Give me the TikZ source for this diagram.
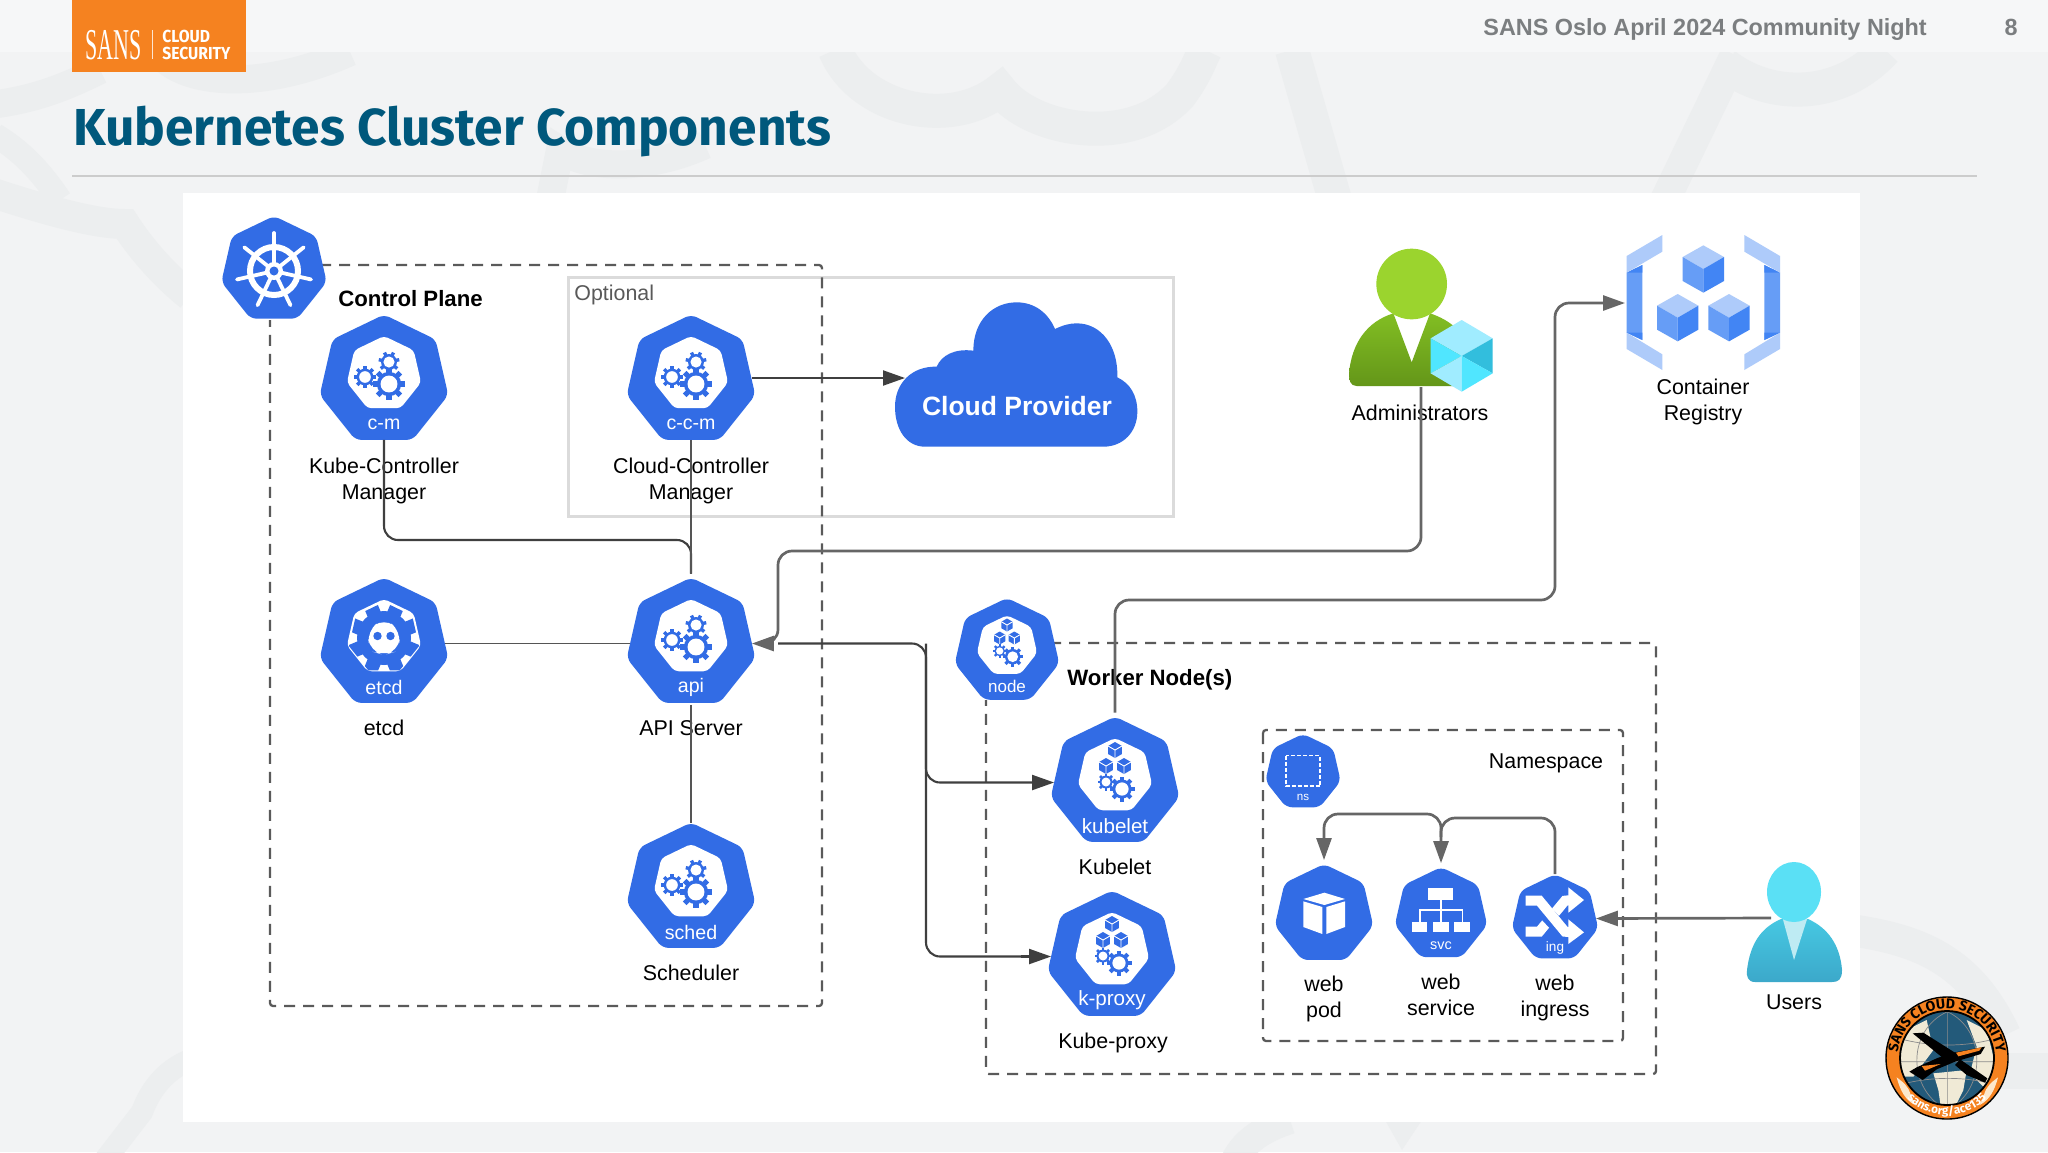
\documentclass[tikz,border=0pt]{standalone}
\usepackage{fontspec}
\usepackage{graphicx}
\setmainfont{Liberation Sans}
\newfontfamily\firafont{Fira Sans}
\newfontfamily\seriffont{Liberation Serif}
\usetikzlibrary{shapes.geometric,arrows.meta,decorations.text,calc}
\definecolor{kblue}{HTML}{326CE5}
\definecolor{pagebg}{HTML}{F2F3F4}
\definecolor{topbg}{HTML}{F6F7F8}
\definecolor{wmark}{HTML}{ECEEEF}
\definecolor{dkline}{HTML}{3F3F3F}
\definecolor{grline}{HTML}{666666}
\definecolor{thinl}{HTML}{555555}
\definecolor{dashc}{HTML}{5A5A5A}
\definecolor{titlec}{HTML}{00587C}
\definecolor{sansor}{HTML}{F58220}
\definecolor{hdrtxt}{HTML}{7B7E80}
\definecolor{admtop}{RGB}{130,190,35}
\definecolor{admbot}{RGB}{100,150,25}
\definecolor{admhead}{RGB}{155,212,46}
\definecolor{cubelt}{RGB}{160,236,255}
\definecolor{cubemd}{RGB}{80,230,255}
\definecolor{cubedk}{RGB}{50,190,221}
\definecolor{gglt}{RGB}{174,203,250}
\definecolor{ggmd}{RGB}{102,157,246}
\definecolor{ggdk}{RGB}{66,133,244}
\definecolor{usrtop}{RGB}{70,200,226}
\definecolor{usrbot}{RGB}{60,168,202}
\definecolor{usrtie}{RGB}{190,235,243}
\definecolor{usrhead}{RGB}{90,224,245}
\definecolor{bglobe}{RGB}{35,90,122}
\definecolor{bland}{RGB}{240,234,214}
\definecolor{bwing}{RGB}{252,232,205}
\tikzset{
  hexn/.style={regular polygon,regular polygon sides=7,fill=kblue,draw=none,inner sep=0pt,outer sep=0pt,rounded corners=3pt},
  hexlab/.style={text=white,inner sep=0pt,anchor=center},
  lab/.style={font=\fontsize{10.7}{13}\selectfont,align=center,inner sep=0pt,text=black},
  blab/.style={font=\fontsize{11.1}{13}\selectfont\bfseries,inner sep=0pt,text=black,anchor=west},
  dashbox/.style={draw=dashc,line width=1.15pt,dash pattern=on 5.5pt off 4pt,rounded corners=1.5pt},
  dkconn/.style={draw=dkline,line width=1.05pt,rounded corners=7pt},
  thinconn/.style={draw=thinl,line width=0.75pt},
  grconn/.style={draw=grline,line width=1.35pt,rounded corners=7pt},
  dktip/.style={-{Triangle[length=11pt,width=7.5pt,color=dkline]}},
  grtip/.style={-{Triangle[length=11pt,width=7.5pt,color=grline]}},
  wm/.style={draw=wmark,line width=17pt,line cap=butt},
}
\newcommand{\heptpath}[1]{(-90:#1) -- (-38.57:#1) -- (12.86:#1) -- (64.29:#1) -- (115.71:#1) -- (167.14:#1) -- (218.57:#1) -- cycle}
% name x y R label fontsize
\newcommand{\khex}[6]{%
  \pgfmathsetmacro\kms{#4*1.03}
  \node[hexn,minimum size=\kms pt] (#1) at (#2,#3+0.5) {};
  \pgfmathsetmacro\kly{#3+0.69*#4}
  \node[hexlab,font=\fontsize{#6}{#6}\selectfont] (#1-lab) at (#2,\kly) {#5};
}
\newcommand{\kinner}[3]{%
  \pgfmathsetmacro\ks{#3/64}
  \begin{scope}[shift={(#1,#2)},scale=\ks]
    \begin{scope}[shift={(0,-6)}]
      \fill[white,rounded corners=2pt] \heptpath{38};
    \end{scope}
  \end{scope}
}
\newcommand{\kgear}[4]{%
  \begin{scope}[shift={(#1,#2)}]
    \foreach \k in {1,...,#4}{\fill[kblue,rotate=\k*360/#4] (-#3*0.16,0) rectangle (#3*0.16,#3);}
    \fill[kblue] (0,0) circle (#3*0.76);
    \fill[white] (0,0) circle (#3*0.53);
  \end{scope}
}
\newcommand{\kcube}[3]{%
  \begin{scope}[shift={(#1,#2)}]
    \fill[kblue] (0,-#3) -- (0.87*#3,-0.5*#3) -- (0.87*#3,0.5*#3) -- (0,#3) -- (-0.87*#3,0.5*#3) -- (-0.87*#3,-0.5*#3) -- cycle;
    \draw[white,line width=0.45pt] (-0.87*#3,-0.5*#3) -- (0,0) -- (0.87*#3,-0.5*#3) (0,0) -- (0,#3);
  \end{scope}
}
% three gears icon
\newcommand{\kgears}[3]{%
  \pgfmathsetmacro\ks{#3/64}
  \begin{scope}[shift={(#1,#2)},scale=\ks]
    \kgear{5}{4}{16}{8}
    \kgear{-19}{-3}{11}{8}
    \kgear{5}{-18}{10.5}{7}
  \end{scope}
}
% cubes and gears icon
\newcommand{\kcubes}[3]{%
  \pgfmathsetmacro\ks{#3/64}
  \begin{scope}[shift={(#1,#2)},scale=\ks]
    \kcube{0}{-32}{8}
    \kcube{-9}{-16}{8}
    \kcube{9}{-16}{8}
    \kgear{7}{7}{12.5}{8}
    \kgear{-9}{0}{8.5}{8}
  \end{scope}
}
\begin{document}
\begin{tikzpicture}[x=0.5pt,y=-0.5pt]
\useasboundingbox (0,0) rectangle (2048,1152);
% background
\fill[pagebg] (0,0) rectangle (2048,1152);
\draw[wm] (835,50) .. controls (860,110) and (950,130) .. (1000,90) .. controls (1030,130) and (1130,150) .. (1180,95) .. controls (1195,75) and (1200,60) .. (1205,50);
\draw[wm] (1292,50) -- (1335,200);
\draw[wm,line width=15pt] (1735,55) -- (1665,200);
\draw[wm] (1725,65) .. controls (1770,100) and (1840,100) .. (1885,50);
\draw[wm,line width=14pt] (160,55) .. controls (190,88) and (270,88) .. (350,52);
\draw[wm,line width=14pt] (-10,105) .. controls (30,100) and (60,90) .. (100,70);
\draw[wm,line width=14pt] (550,200) -- (560,150) .. controls (590,170) and (650,170) .. (705,145);
\draw[wm,line width=15pt] (-10,192) .. controls (60,215) and (100,224) .. (125,224) .. controls (145,255) and (170,280) .. (190,296);
\draw[wm,line width=12pt] (-5,135) .. controls (20,150) and (40,170) .. (60,200);
\draw[wm,line width=11pt] (190,1060) .. controls (165,1070) and (150,1090) .. (142,1112) -- (105,1160);
\draw[wm,line width=16pt] (1850,930) .. controls (1920,940) and (1970,960) .. (2005,1035);
\draw[wm,line width=18pt] (2000,1071) -- (2060,1071);
\draw[wm,line width=14pt] (1235,1160) .. controls (1245,1140) and (1265,1128) .. (1290,1120);
\fill[wmark] (1385,1120) -- (1422,1120) -- (1402,1150) -- cycle;
\fill[topbg] (0,0) rectangle (2048,52);
\draw[color=black!20,line width=1pt] (72,176) -- (1977,176);
% header
\fill[sansor] (72,0) rectangle (246,72);
\node[inner sep=0pt,text=white,font=\fontsize{22}{22}\seriffont] (sanslogo) at (113.5,45) {\scalebox{0.5}[1]{SANS}};
\fill[white,opacity=0.8] (151.5,30) rectangle (152.5,59);
\node[inner sep=0pt,text=white,font=\fontsize{8.7}{8.7}\firafont\bfseries,anchor=base west] (sanscl) at (162,42) {\scalebox{0.9}[1]{CLOUD}};
\node[inner sep=0pt,text=white,font=\fontsize{8.7}{8.7}\firafont\bfseries,anchor=base west] (sanssc) at (162,59) {\scalebox{0.9}[1]{SECURITY}};
\node[inner sep=0pt,text=titlec,font=\fontsize{26}{26}\firafont\bfseries,anchor=base west] (title) at (73,145) {\scalebox{0.99}[1]{Kubernetes Cluster Components}};
\node[inner sep=0pt,text=hdrtxt,font=\fontsize{11.7}{12}\selectfont\bfseries,anchor=base west] (hdr) at (1483,35) {SANS Oslo April 2024 Community Night};
\node[inner sep=0pt,text=hdrtxt,font=\fontsize{11.7}{12}\selectfont\bfseries,anchor=base] (pageno) at (2011,35) {8};
% panel
\fill[white] (183,193) rectangle (1860,1122);
% boxes
\draw[draw=black!14,line width=1.5pt] (568,277) rectangle (1173,516);
\node[inner sep=0pt,anchor=west,font=\fontsize{10.7}{13}\selectfont,text=black!65] (optional) at (574,295) {Optional};
\draw[dashbox] (320,265) -- (822,265) -- (822,1006) -- (270,1006) -- (270,320);
\draw[dashbox] (1050,643) -- (1656,643) -- (1656,1074) -- (986,1074) -- (986,700);
\draw[dashbox] (1263,730) rectangle (1623,1041);
% main wheel
\node[hexn,minimum size=54pt] (wheel) at (274,270) {};
\begin{scope}[shift={(274,271)}]
  \draw[white,line width=3pt] (0,0) circle (24);
  \foreach \a in {-90,-38.57,12.86,64.29,115.71,167.14,218.57}{
    \draw[white,line width=1.9pt,line cap=round] (0,0) -- (\a:38);
  }
  \fill[white] (0,0) circle (9);
  \fill[kblue] (0,0) circle (4.5);
\end{scope}
% control-plane hexagons
\khex{cm}{384}{380}{64}{c-m}{9.8}
\kinner{384}{380}{64}\kgears{384}{380}{64}
\khex{ccm}{691}{380}{64}{c-c-m}{9.8}
\kinner{691}{380}{64}\kgears{691}{380}{64}
\khex{etcd}{384}{643}{64}{etcd}{9.8}
\kinner{384}{643}{64}
\begin{scope}[shift={(384,638)}]
  \begin{scope}
    \clip \heptpath{36};
    \foreach \a in {0,45,...,315}{\fill[kblue,rotate=\a+22.5] (-7,0) rectangle (7,36);}
  \end{scope}
  \fill[kblue] (0,0) circle (27);
  \fill[white,rounded corners=6pt] (0,-20) -- (17,-7) -- (14,13) -- (0,17) -- (-14,13) -- (-17,-7) -- cycle;
  \fill[kblue] (-6.5,-2) circle (4.2) (6.5,-2) circle (4.2);
\end{scope}
\khex{api}{691}{643}{64}{api}{9.8}
\kinner{691}{643}{64}\kgears{691}{643}{64}
\khex{sched}{691}{888}{64}{sched}{9.8}
\kinner{691}{888}{64}\kgears{691}{888}{64}
% worker hexagons
\khex{node}{1007}{651}{52}{node}{8.5}
\kinner{1007}{651}{52}\kcubes{1007}{651}{52}
\khex{kubelet}{1115}{782}{64}{kubelet}{10.3}
\kinner{1115}{782}{64}\kcubes{1115}{782}{64}
\khex{kproxy}{1112}{956}{64}{k-proxy}{10.3}
\kinner{1112}{956}{64}\kcubes{1112}{956}{64}
% namespace hexagons
\khex{ns}{1303}{772}{37.5}{ns}{5.8}
\draw[white,line width=0.8pt,dash pattern=on 2pt off 1pt] (1286,755.5) rectangle (1320,786);
\khex{pod}{1324}{914}{49}{}{5}
\begin{scope}[shift={(1260,730)},scale=1/3]
  \fill[white] (193,488) -- (255,507) -- (193,525) -- (130,507) -- cycle;
  \fill[white] (130,514) -- (187,531) -- (187,612) -- (130,591) -- cycle;
  \fill[white] (199,531) -- (255,514) -- (255,591) -- (199,612) -- cycle;
\end{scope}
\khex{svc}{1441}{914}{46}{svc}{7.2}
\begin{scope}[shift={(1260,730)},scale=1/3]
  \fill[white] (505,475) rectangle (580,510);
  \fill[white] (456,575) rectangle (502,605);
  \fill[white] (520,575) rectangle (568,605);
  \fill[white] (583,575) rectangle (630,605);
  \draw[white,line width=0.8pt] (543,510) -- (543,575) (480,575) -- (480,540) -- (607,540) -- (607,575);
\end{scope}
\khex{ing}{1555}{918}{43}{ing}{6.8}
\begin{scope}[shift={(1260,730)},scale=1/3]
  \draw[white,line width=5pt] (797,605) -- (838,605) -- (915,512) -- (935,510);
  \fill[white] (925,472) -- (972,510) -- (925,548) -- cycle;
  \draw[kblue,line width=7.5pt] (830,520) -- (905,600);
  \draw[white,line width=5pt] (797,512) -- (838,512) -- (915,605) -- (935,607);
  \fill[white] (925,568) -- (972,607) -- (925,642) -- cycle;
\end{scope}
% cloud
\begin{scope}[shift={(880,290)},scale=1/3]
  \fill[kblue] (135,470) .. controls (80,470) and (45,420) .. (45,350) .. controls (45,280) and (95,228) .. (170,230)
    .. controls (185,195) and (225,175) .. (280,182) .. controls (280,90) and (340,37) .. (410,37)
    .. controls (465,37) and (505,70) .. (525,117) .. controls (550,105) and (570,100) .. (590,100)
    .. controls (665,100) and (715,170) .. (712,262) .. controls (750,280) and (772,315) .. (772,365)
    .. controls (772,425) and (730,470) .. (670,470) -- cycle;
\end{scope}
\node[inner sep=0pt,text=white,font=\fontsize{13.25}{14}\selectfont\bfseries] (cloud) at (1017,406) {Cloud Provider};
\coordinate (cloudw) at (905,378);
% administrators
\begin{scope}[shift={(1300,200)},scale=1/3]
  \shade[top color=admtop,bottom color=admbot] (170,558) .. controls (150,558) and (147,540) .. (147,520) .. controls (155,430) and (200,365) .. (280,340) -- (335,487) -- (390,340) .. controls (420,350) and (450,365) .. (480,395) -- (480,558) -- cycle;
  \fill[admhead] (335,252) circle (106);
  \fill[cubelt] (485,360) -- (578,415) -- (485,468) -- (392,415) -- cycle;
  \fill[cubemd] (392,415) -- (485,468) -- (392,520) -- cycle;
  \fill[cubedk] (578,415) -- (578,520) -- (485,468) -- cycle;
  \fill[cubelt] (392,520) -- (485,468) -- (485,575) -- cycle;
  \fill[cubemd] (578,520) -- (485,468) -- (485,575) -- cycle;
  % registry
  \foreach \sx/\cx in {1/980,-1/1440}{
    \begin{scope}[shift={(\cx,0)},xscale=\sx]
      \fill[ggmd] (0,218) -- (47,195) -- (47,420) -- (0,398) -- cycle;
      \fill[ggdk] (0,218) -- (47,195) -- (47,218) -- cycle;
      \fill[ggdk] (0,398) -- (47,420) -- (47,398) -- cycle;
      \fill[gglt] (0,168) -- (107,105) -- (107,155) -- (0,218) -- cycle;
      \fill[gglt] (0,398) -- (107,463) -- (107,510) -- (0,447) -- cycle;
    \end{scope}
  }
  \foreach \cx/\cy in {1210/207,1133/353,1287/353}{
    \begin{scope}[shift={(\cx,\cy)}]
      \fill[gglt] (0,-71) -- (62,-36) -- (0,0) -- (-62,-36) -- cycle;
      \fill[ggmd] (-62,-36) -- (0,0) -- (0,71) -- (-62,36) -- cycle;
      \fill[ggdk] (62,-36) -- (0,0) -- (0,71) -- (62,36) -- cycle;
    \end{scope}
  }
\end{scope}
\coordinate (admin) at (1421,387);
\coordinate (registry) at (1625,303);
% users
\shade[top color=usrtop,bottom color=usrbot] (1755,982) .. controls (1748,982) and (1746,976) .. (1747,970) .. controls (1750,945) and (1760,928) .. (1781,919) -- (1808,919) .. controls (1828,928) and (1840,945) .. (1842,970) .. controls (1842,980) and (1838,982) .. (1832,982) -- cycle;
\fill[usrtie] (1782,916) -- (1808,916) -- (1794,960) -- cycle;
\fill[usrhead] (1794,892) ellipse (27 and 30);
\coordinate (users) at (1771,918);
% labels
\node[lab] (l-cm) at (384,480.5) {Kube-Controller\\Manager};
\node[lab] (l-ccm) at (691,480.5) {Cloud-Controller\\Manager};
\node[lab] (l-etcd) at (384,728) {etcd};
\node[lab] (l-api) at (691,728) {API Server};
\node[lab] (l-sched) at (691,973) {Scheduler};
\node[lab] (l-admin) at (1420,413) {Administrators};
\node[lab] (l-reg) at (1703,401.5) {Container\\Registry};
\node[lab] (l-ns) at (1546,763) {Namespace};
\node[lab] (l-kubelet) at (1115,867) {Kubelet};
\node[lab] (l-kproxy) at (1113,1043) {Kube-proxy};
\node[lab] (l-pod) at (1324,999) {web\\pod};
\node[lab] (l-svc) at (1441,995) {web\\service};
\node[lab] (l-ing) at (1555,997.5) {web\\ingress};
\node[lab] (l-users) at (1794,1002) {Users};
\node[blab] (l-cp) at (338,299) {Control Plane};
\node[blab] (l-wn) at (1067,679.5) {Worker Node(s)};
% connectors
\coordinate (j1) at (384,540);
\draw[dkconn] (cm.south) -- (cm.south |- j1) -- (api.north |- j1) -- ([yshift=2pt]api.north);
\draw[thinconn] (ccm.south) -- ([yshift=2pt]api.north);
\draw[thinconn] (etcd.east) -- (api.west);
\draw[thinconn] ([yshift=-1pt]api.south) -- (sched.north);
\draw[dkconn,dktip] (ccm.east |- cloudw) -- (cloudw);
\coordinate (j2) at (926,781);
\coordinate (j3) at (778,551);
\coordinate (j4) at (1555,600);
\draw[grconn,grtip] (admin) -- (admin |- j3) -- (j3) -- (j3 |- api.east) -- (api.east);
\draw[dkconn] (j3 |- api.east) -- (j2 |- api.east) -- (j2 |- kproxy.west) -- ([xshift=-11pt]kproxy.west);
\draw[dkconn,dktip] (j2 |- api.east) -- (j2 |- kubelet.west) -- (kubelet.west);
\draw[dkconn,dktip] ([xshift=-15pt]kproxy.west) -- (kproxy.west);
\draw[grconn,grtip] ([yshift=2pt]kubelet.north) -- (kubelet.north |- j4) -- (j4) -- (j4 |- registry) -- (registry);
\coordinate (j5) at (1441,818);
\coordinate (j6) at (1441,814);
\draw[grconn,grtip] (ing.north) -- (ing.north |- j5) -- (j5) -- ([yshift=2pt]svc.north);
\draw[grconn,grtip] ($(svc.north)+(0,-30)$) -- (j6) -- (pod.north |- j6) -- ([yshift=2pt]pod.north);
\draw[grconn,grtip] (users) -- (ing.east);
% badge
\fill[sansor] (1947,1058) circle (61);
\draw[black,line width=0.7pt] (1947,1058) circle (61);
\begin{scope}[shift={(1870,990)},scale=1/3]
  \foreach \sx/\cx in {1/0,-1/464}{
    \begin{scope}[shift={(\cx,0)},xscale=\sx]
      \fill[bwing] (80,262) .. controls (90,300) and (105,330) .. (135,345) .. controls (120,315) and (120,300) .. (110,290) .. controls (105,280) and (90,270) .. (80,262) -- cycle;
    \end{scope}
  }
\end{scope}
\begin{scope}
  \clip (1947,1058) circle (47);
  \fill[bglobe] (1947,1058) circle (47);
  \begin{scope}[shift={(1870,990)},scale=1/3]
    \fill[bland] (90,130) -- (170,90) -- (190,180) -- (130,260) -- (90,260) -- cycle;
    \fill[bland] (290,90) -- (350,120) -- (380,240) -- (340,290) -- (300,250) -- (320,170) -- cycle;
    \fill[bland] (190,250) -- (290,240) -- (280,300) -- (245,370) -- (215,370) -- (205,300) -- cycle;
    \draw[black!45,line width=0.35pt] (232,65) .. controls (110,120) and (110,300) .. (232,360) .. controls (350,300) and (350,120) .. (232,65);
    \draw[black!45,line width=0.35pt] (232,65) -- (232,360) (90,215) -- (375,215) (105,150) .. controls (190,170) and (280,170) .. (360,150) (105,280) .. controls (190,260) and (280,260) .. (360,280);
    % plane
    \fill[black] (128,130) -- (160,128) -- (258,190) -- (240,215) -- (220,205) -- cycle;
    \fill[black] (345,170) -- (332,192) -- (255,215) -- (200,238) -- (158,270) -- (118,245) -- (140,232) -- (200,205) -- (240,190) -- cycle;
    \fill[black] (270,208) -- (352,265) -- (345,278) -- (290,255) -- (255,225) -- cycle;
    \fill[sansor] (258,188) -- (335,172) -- (328,182) -- (265,199) -- cycle;
    \fill[sansor] (155,228) -- (212,222) -- (165,242) -- cycle;
  \end{scope}
\end{scope}
\draw[black,line width=0.9pt] (1947,1058) circle (47);
\begin{scope}[shift={(1947,1058)},y=0.5pt]
  \path[postaction={decorate},decoration={text along path,text align=center,text={|\fontsize{7}{8}\firafont\bfseries\color{black}|SANS CLOUD SECURITY}}] (172:49.5) arc[start angle=172,end angle=8,radius=49.5];
  \path[postaction={decorate},decoration={text along path,text align=center,text={|\fontsize{5.9}{6}\firafont\bfseries\color{white}|sans.org/ace135}}] (220:57) arc[start angle=220,end angle=320,radius=57];
\end{scope}
\end{tikzpicture}
\end{document}
